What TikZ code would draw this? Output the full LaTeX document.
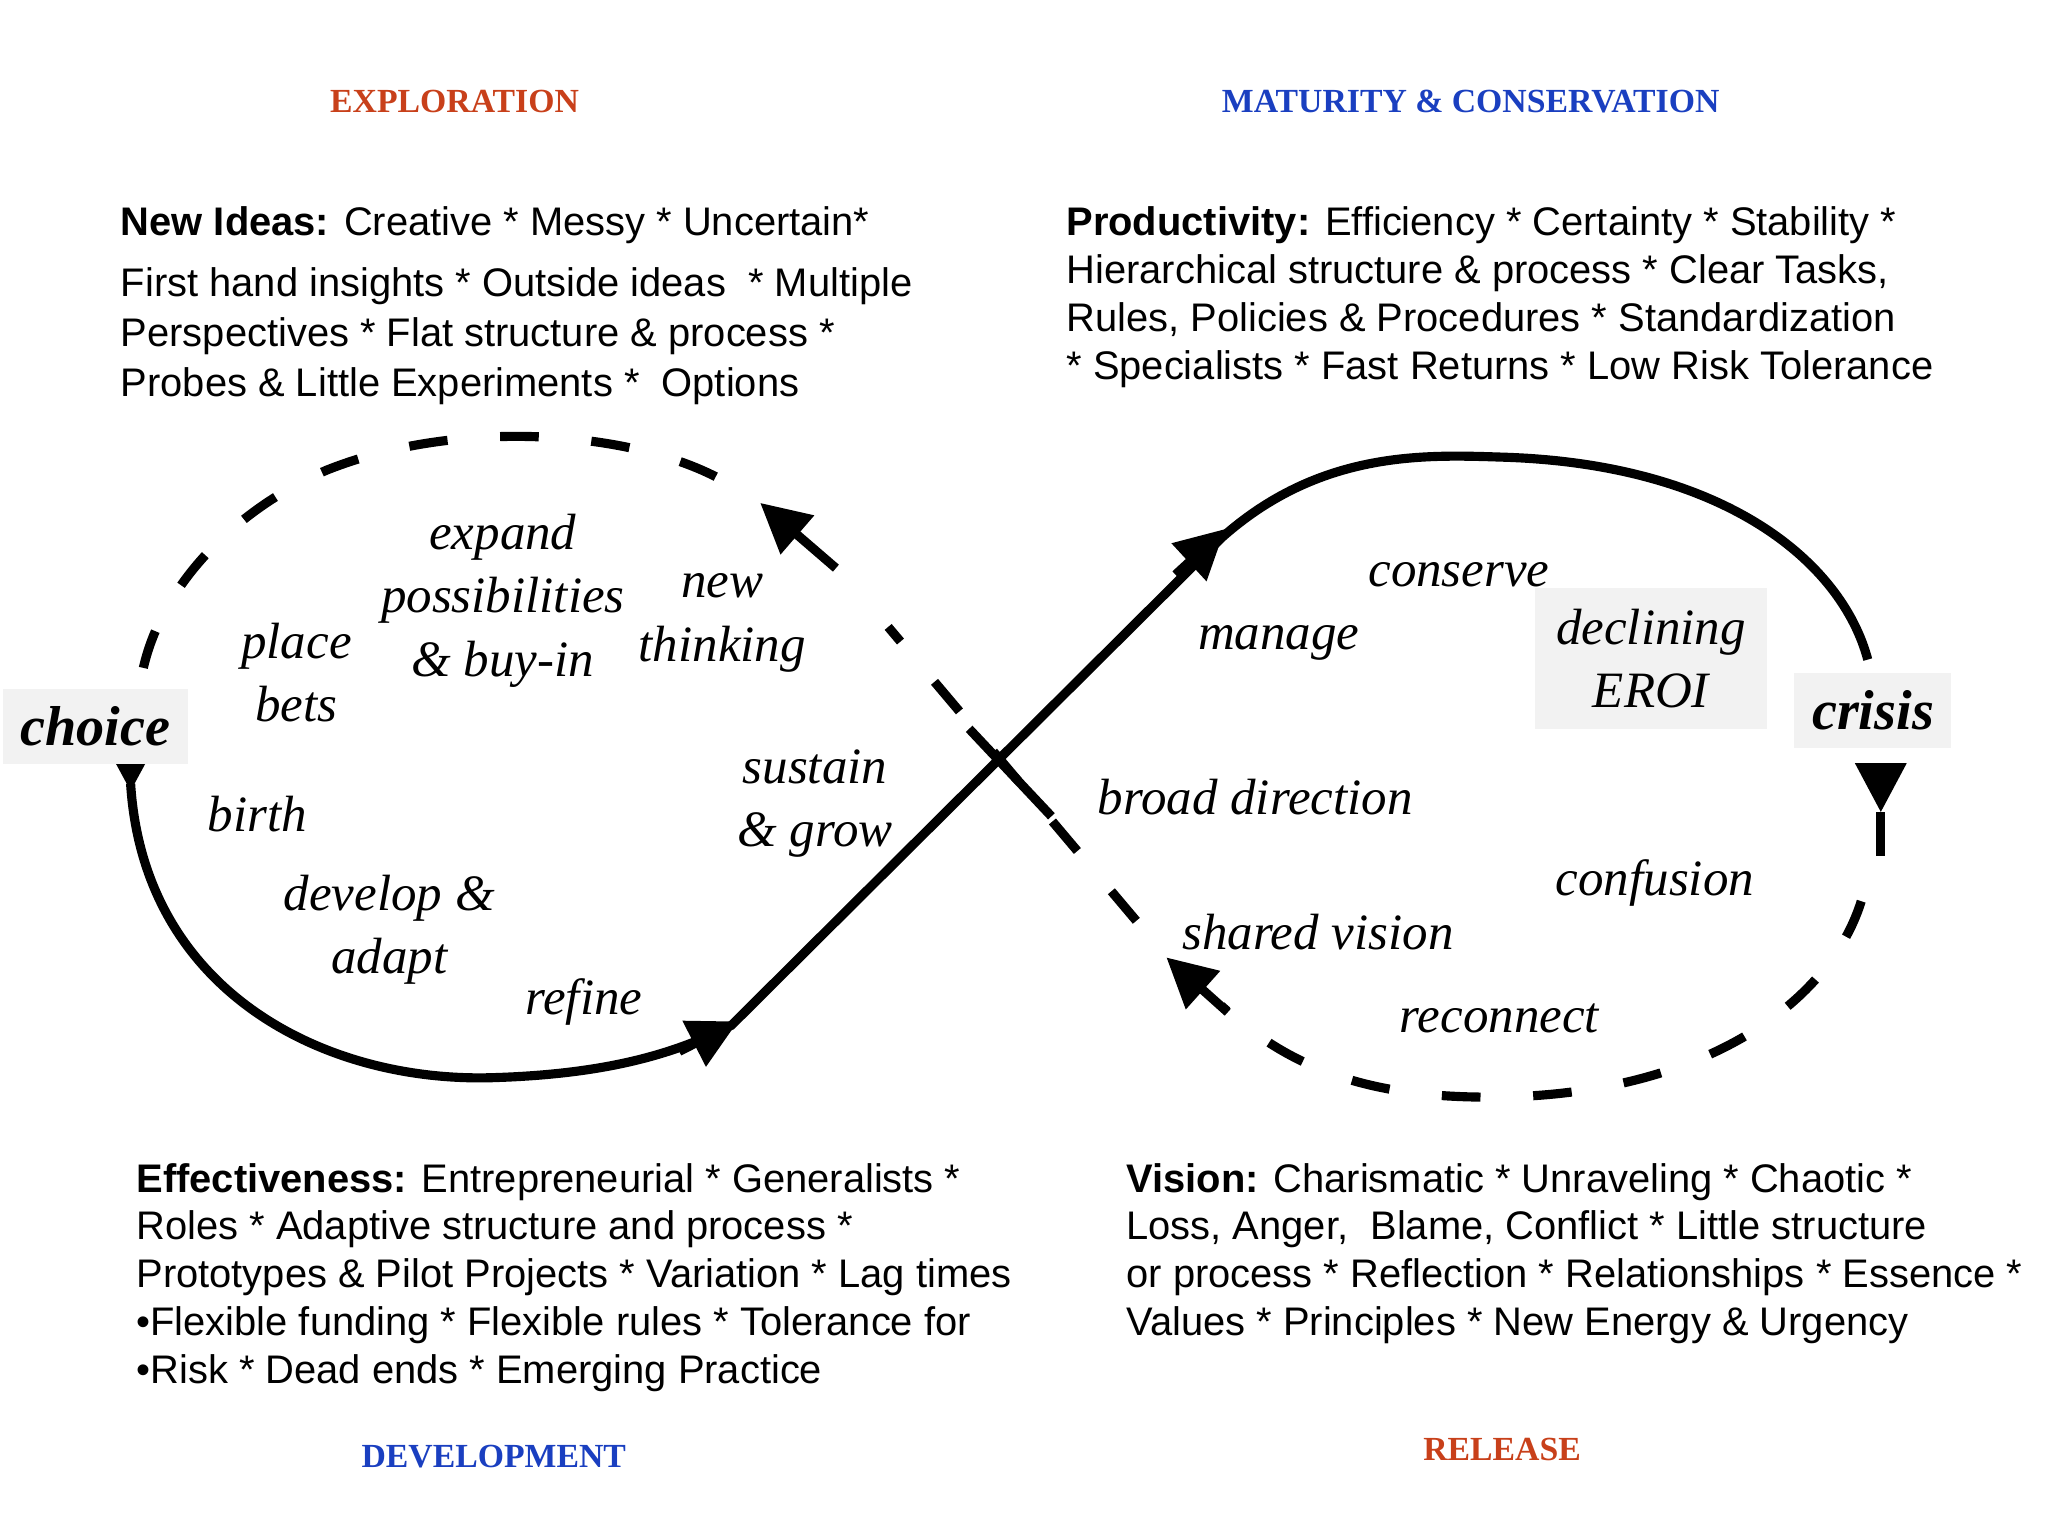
\documentclass[tikz,border=0pt]{standalone}
\usepackage{fontspec}
\setmainfont{Liberation Serif}
\setsansfont{Liberation Sans}
\usetikzlibrary{arrows.meta}
\definecolor{redh}{HTML}{C8401A}
\definecolor{blueh}{HTML}{1A3FC0}
\definecolor{boxg}{HTML}{F2F2F2}
\tikzset{
 block/.style={font=\sffamily\fontsize{11.35}{13.6}\selectfont,align=left,anchor=north west,inner sep=0},
 head/.style={font=\bfseries\fontsize{9.6}{11}\selectfont,inner sep=0},
 lab/.style={font=\itshape\fontsize{14.5}{18}\selectfont,align=center,inner sep=1pt},
 big/.style={font=\bfseries\itshape\fontsize{16}{18}\selectfont,fill=boxg,inner sep=5pt},
 loop/.style={line width=2.6pt,black},
 dloop/.style={loop,dash pattern=on 11pt off 15pt},
 tip/.style={-{Triangle[length=14pt,width=14pt]}}
}
\begin{document}
\begin{tikzpicture}[x=0.013061cm,y=-0.013061cm]
\useasboundingbox (0,0) rectangle (1568,1176);
\node[head,text=redh] (hexp) at (348,78) {EXPLORATION};
\node[head,text=blueh] (hmat) at (1126,78) {MATURITY \& CONSERVATION};
\node[head,text=blueh] (hdev) at (378,1115) {DEVELOPMENT};
\node[head,text=redh] (hrel) at (1150,1110) {RELEASE};

\node[block,font=\sffamily\fontsize{11.35}{14.2}\selectfont] (bnew) at (92,158) {\textbf{New Ideas:} Creative * Messy * Uncertain*\\[3pt]First hand insights * Outside ideas\ \ * Multiple\\Perspectives * Flat structure \& process *\\Probes \& Little Experiments *\ \ Options};
\node[block] (bprod) at (816,158) {\textbf{Productivity:} Efficiency * Certainty * Stability *\\Hierarchical structure \& process * Clear Tasks,\\Rules, Policies \& Procedures * Standardization\\* Specialists * Fast Returns * Low Risk Tolerance};
\node[block] (beff) at (104,890) {\textbf{Effectiveness:} Entrepreneurial * Generalists *\\Roles * Adaptive structure and process *\\Prototypes \& Pilot Projects * Variation * Lag times\\•Flexible funding * Flexible rules * Tolerance for\\•Risk * Dead ends * Emerging Practice};
\node[block] (bvis) at (862,890) {\textbf{Vision:} Charismatic * Unraveling * Chaotic *\\Loss, Anger,\ \ Blame, Conflict * Little structure\\or process * Reflection * Relationships * Essence *\\Values * Principles * New Energy \& Urgency};

% loops
\draw[loop] (100,600) .. controls (110,760) and (250,830) .. (380,825) .. controls (470,822) and (520,805) .. (560,785) -- (935,412) .. controls (1010,345) and (1090,348) .. (1150,350) .. controls (1320,355) and (1410,430) .. (1430,505);
\draw[loop,tip] (520,805) -- (565,782);
\draw[loop,tip] (900,440) -- (938,405);
\draw[loop,tip] (1440,585) -- (1440,622);
\draw[loop,-{Triangle[length=12pt,width=12pt]}] (100,590) -- (100,606);
\draw[loop] (1440,622) -- (1440,655);
\draw[dloop] (1425,690) .. controls (1400,770) and (1300,840) .. (1140,840) .. controls (1050,840) and (990,820) .. (935,770);
\draw[loop,tip] (940,775) -- (893,733);
\draw[dloop] (870,705) -- (680,480);
\draw[loop] (742,558) -- (805,625);
\draw[loop,tip] (640,435) -- (582,385);
\draw[dloop] (548,365) .. controls (480,330) and (350,320) .. (250,360) .. controls (180,390) and (120,450) .. (108,520);

\node[big] (choice) at (73,556) {choice};
\node[big] (crisis) at (1434,544) {crisis};
\node[lab,fill=boxg,inner sep=6pt] (eroi) at (1264,504) {declining\\EROI};

\node[lab] (l1) at (385,460) {expand\\possibilities\\\& buy-in};
\node[lab] (l2) at (553,477) {new\\thinking};
\node[lab] (l3) at (227,515) {place\\bets};
\node[lab] (l4) at (197,623) {birth};
\node[lab] (l5) at (298,712) {develop \&\\adapt};
\node[lab] (l6) at (447,767) {refine};
\node[lab] (l7) at (624,615) {sustain\\\& grow};
\node[lab] (l8) at (1117,440) {conserve};
\node[lab] (l9) at (979,492) {manage};
\node[lab] (l10) at (961,610) {broad direction};
\node[lab] (l11) at (1267,676) {confusion};
\node[lab] (l12) at (1009,714) {shared vision};
\node[lab] (l13) at (1148,780) {reconnect};
\end{tikzpicture}
\end{document}
